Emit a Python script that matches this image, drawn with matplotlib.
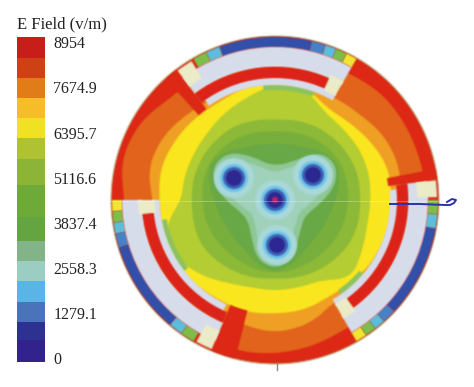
import numpy as np
import matplotlib
matplotlib.use('Agg')
from matplotlib import pyplot as plt
from matplotlib.patches import Wedge, Circle, Polygon

# colorbar bands, bottom to top
band_edges = [-114, 502, 1023, 1592, 2179, 2757, 3326, 4008, 4908, 5638, 6235, 6803, 7372, 7940, 8509, 9105]
band_colors = ['#32228c', '#2d3291', '#4b73b9', '#5ab4e6', '#9bcdc3', '#82b487', '#64a541', '#6eaa37',
               '#8cb437', '#afc332', '#f0e123', '#f5be28', '#e17d19', '#cd4114', '#c81e19']
tick_values = [0, 1279.1, 2558.3, 3837.4, 5116.6, 6395.7, 7674.9, 8954]
tick_labels = ['0', '1279.1', '2558.3', '3837.4', '5116.6', '6395.7', '7674.9', '8954']

# contour radii (px) of the field, read every 15 deg
angles = np.arange(0, 360, 15)
orange_r = [152, 150, 150, 150, 146, 146, 146, 146, 146, 145, 155, 158, 150, 150, 150, 150, 150, 155, 153, 150, 146, 150, 150, 150]
light_r = [125, 128, 126, 120, 118, 118, 118, 118, 118, 122, 128, 130, 122, 120, 120, 120, 122, 128, 132, 128, 117, 120, 122, 124]
yellow_r = [116, 117, 112, 107, 105, 116, 116, 116, 112, 114, 116, 118, 115, 116, 116, 116, 114, 115, 113, 113, 110, 112, 115, 116]
ygreen_r = [95, 97, 98, 98, 100, 114, 115, 106, 100, 95, 93, 93, 93, 113, 114, 105, 95, 90, 90, 90, 92, 108, 100, 95]
green1_r = [85, 86, 86, 85, 84, 82, 80, 82, 84, 84, 84, 84, 83, 84, 86, 84, 82, 80, 78, 80, 82, 84, 86, 86]
green2_r = [73, 74, 75, 74, 72, 70, 68, 70, 72, 74, 75, 74, 72, 72, 71, 70, 70, 72, 72, 72, 71, 71, 72, 72]
green3_r = [60, 66, 72, 68, 60, 57, 56, 57, 60, 68, 74, 68, 60, 57, 55, 56, 58, 66, 72, 66, 58, 55, 55, 56]
pale_r = [48, 62, 70, 66, 46, 37, 35, 38, 50, 66, 70, 63, 48, 38, 34, 36, 45, 62, 68, 62, 45, 37, 34, 38]
aqua_r = [38, 52, 60, 56, 38, 31, 28, 31, 40, 56, 62, 54, 40, 31, 27, 29, 36, 52, 60, 52, 36, 30, 27, 30]
level_colors = ['#e2641c', '#efa024', '#fae61e', '#b4cd32', '#8cb937', '#78af3c', '#69a846', '#8fc796', '#a0d2bb']

# the three slotted blocks (deg, start of each)
arc_starts = [60, 180, -60]
arc_span = 67
red_extra = [5, 9, 4]
green_from = [70, 190, -55]
green_to = [96, 218, -40]
strip_offsets = [0, 4, 8, 12, 17, 50, 55, 60]
strip_colors = ['#f0e632', '#7dbe4b', '#5abedc', '#4682c8', '#3250aa', '#5abedc', '#7dbe4b']

# flux spots
spot_x = [234, 313, 275, 277]
spot_y = [178, 175, 200, 245]
halo_r = [20, 14, 11, 8]
halo_colors = ['#a8d8d8', '#6ec3eb', '#3c64b4', '#2d2891']

# feed line
feed_x = [390, 420, 445, 450, 454, 456, 452, 447]
feed_y = [204, 204, 205, 205, 203, 200, 199, 202]

cx, cy = 275, 200
R = 163
PAD = 5


def blur(im, dpi):
    # soft edges like the scanned original
    im = np.pad(im, [(PAD, PAD), (PAD, PAD), (0, 0)], 'constant')
    out = im.copy()
    out[..., :3] *= out[..., 3:]
    for ax_ in (0, 1):
        out = (np.roll(out, -1, ax_) + 2 * out + np.roll(out, 1, ax_)) / 4
    a = np.clip(out[..., 3:], 1e-4, 1)
    out[..., :3] = np.clip(out[..., :3] / a, 0, 1)
    return out, -PAD, -PAD


fig = plt.figure(figsize=(4.74, 3.87), dpi=100)
ax = fig.add_axes([0, 0, 1, 1])
ax.set_xlim(0, 474)
ax.set_ylim(387, 0)
ax.axis('off')


def ring(radii, color):
    fine = np.arange(360)
    r = np.interp(fine, np.append(angles, 360), np.append(radii, radii[0]))
    r = np.convolve(np.r_[r[-6:], r, r[:6]], np.ones(13) / 13, mode='valid')
    t = np.deg2rad(fine)
    xy = np.c_[cx + r * np.cos(t), cy - r * np.sin(t)]
    ax.add_patch(Polygon(xy, closed=True, facecolor=color, edgecolor='none', agg_filter=blur))


def wedge(r0, r1, a0, a1, color):
    # the y axis is flipped, so angles go the other way round
    ax.add_patch(Wedge((cx, cy), r1, -a1, -a0, width=r1 - r0, facecolor=color, edgecolor='none', agg_filter=blur))


ax.add_patch(Circle((cx, cy), R + 1, facecolor='#dc2814', edgecolor='#b4be8c', lw=0.7, agg_filter=blur))
for radii, color in zip([orange_r, light_r, yellow_r, ygreen_r, green1_r, green2_r, green3_r, pale_r, aqua_r], level_colors):
    ring(radii, color)

for a, extra, g0, g1 in zip(arc_starts, red_extra, green_from, green_to):
    end = a + arc_span
    wedge(110, 116, g0, g1, '#8cc35f')
    # red wedge beside the outer end of each block
    wedge(114, R, end, end + extra, '#dc2814')
    for i in range(len(strip_colors)):
        wedge(153, R, a + strip_offsets[i], a + strip_offsets[i + 1], strip_colors[i])
    wedge(133, 153, a, end, '#d7dceb')
    wedge(115, 123, a, end - 2, '#d7dceb')
    wedge(122, 133, a + 6, end, '#dc2319')
    wedge(120, 137, a, a + 6, '#ebebc8')
    wedge(142, R - 1, end - 6, end, '#ebebc8')

for x, y in zip(spot_x, spot_y):
    for r, color in zip(halo_r, halo_colors):
        ax.add_patch(Circle((x, y), r, facecolor=color, edgecolor='none', agg_filter=blur))
ax.add_patch(Circle((spot_x[2], spot_y[2]), 3, facecolor='#c81e64', edgecolor='none', agg_filter=blur))

ax.plot([110, 440], [201, 201], color='white', lw=0.5, alpha=0.4)
ax.plot(feed_x, feed_y, color='#2d32aa', lw=1.4)
ax.plot([cx + 2, cx + 2], [363, 370], color='#8c8c82', lw=1)

ax.text(17, 24, 'E Field (v/m)', family='Liberation Serif', fontsize=12, color='#222222', va='center')

# colorbar
cax = fig.add_axes([17 / 474, 1 - 362 / 387, 28 / 474, 325 / 387])
cax.pcolormesh([0, 1], band_edges, np.arange(15).reshape(-1, 1),
               cmap=matplotlib.colors.ListedColormap(band_colors))
cax.set_ylim(band_edges[0], band_edges[-1])
cax.set_xticks([])
cax.yaxis.tick_right()
cax.set_yticks(tick_values)
cax.set_yticklabels(tick_labels, family='Liberation Serif', fontsize=11.5, color='#222222')
cax.tick_params(axis='y', length=0, pad=6)
for s in cax.spines.values():
    s.set_visible(False)

plt.savefig('out.png', dpi=100)
